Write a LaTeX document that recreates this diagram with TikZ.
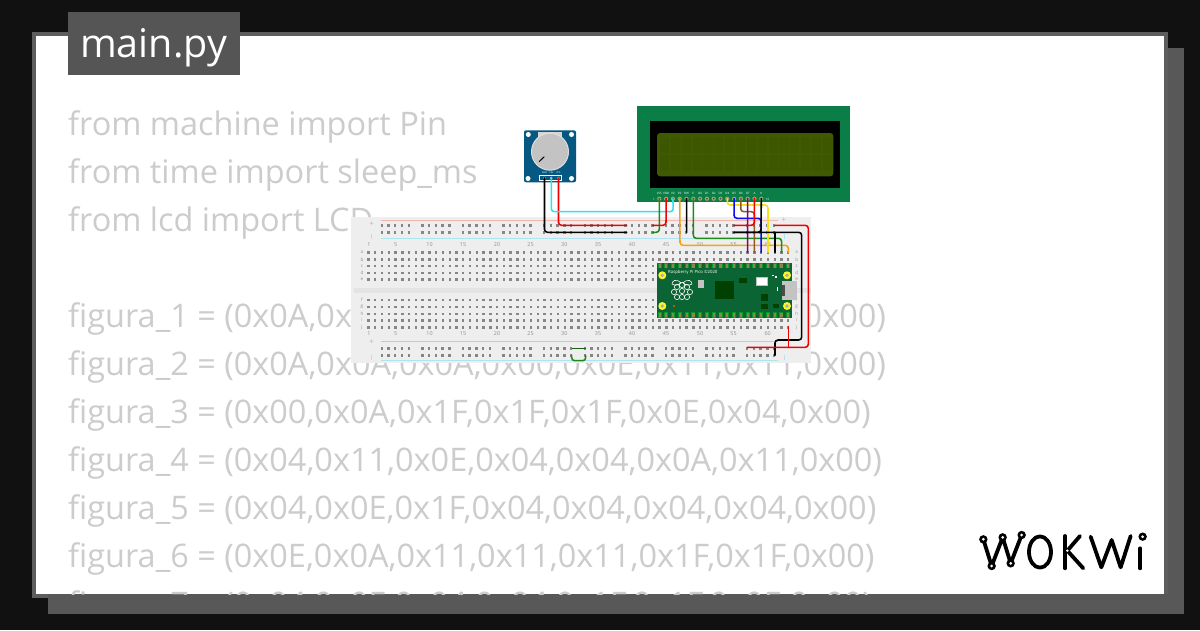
\documentclass[tikz,border=0pt]{standalone}
\usepackage{fontspec}
\setmainfont{Open Sans}
\usetikzlibrary{calc}
\definecolor{pagebg}{HTML}{111111}
\definecolor{shadowc}{HTML}{585858}
\definecolor{tabc}{HTML}{555555}
\definecolor{framec}{HTML}{5E5E5E}
\definecolor{codec}{HTML}{CCCCCC}
\definecolor{breadc}{HTML}{EEEEEE}
\definecolor{chanc}{HTML}{E3E3E3}
\definecolor{holec}{HTML}{868686}
\definecolor{railred}{HTML}{F4B7AE}
\definecolor{railblue}{HTML}{AEE3F2}
\definecolor{labelc}{HTML}{909090}
\definecolor{picoc}{HTML}{0B6434}
\definecolor{lcdc}{HTML}{0A7E46}
\definecolor{screenc}{HTML}{3F5A00}
\definecolor{potc}{HTML}{045881}
\definecolor{knobc}{HTML}{C3C3C3}
\definecolor{wgreen}{HTML}{1C8A1C}
\definecolor{wcyan}{HTML}{22E6F0}
\definecolor{worange}{HTML}{F5A21B}
\definecolor{wyellow}{HTML}{F7E11A}
\definecolor{wbrown}{HTML}{8B5A2B}
\definecolor{wpurple}{HTML}{800080}
\definecolor{wblue}{HTML}{0A0AF0}
\definecolor{wred}{HTML}{F00000}
\tikzset{
  wire/.style={line width=1.55pt,rounded corners=3pt,line cap=round},
  codeline/.style={anchor=base west,inner sep=0pt,text=codec,font=\fontsize{32.45}{32.45}\selectfont},
  boardnum/.style={inner sep=0pt,text=labelc,font=\fontsize{5.4}{5.4}\selectfont},
  rowletter/.style={inner sep=0pt,text=labelc,font=\fontsize{4.6}{4.6}\selectfont},
  lcdlabel/.style={inner sep=0pt,text=white,font=\fontsize{3}{3}\selectfont},
  logostroke/.style={line width=3.8pt,line cap=round,line join=round,black},
}
\begin{document}
\begin{tikzpicture}[x=1pt,y=-1pt]
\useasboundingbox (0,0) rectangle (1200,630);
\fill[pagebg] (0,0) rectangle (1200,630);
\fill[shadowc] (48,48) rectangle (1184,614);
\fill[framec] (32,32) rectangle (1168,598);
\fill[shadowc] (48,594) rectangle (1168,598);
\fill[white] (36,36) rectangle (1164,594);
% code
\begin{scope}
\clip (36,36) rectangle (1164,594);
\node[codeline] (c1) at (68,135.7) {from machine import Pin};
\node[codeline] (c2) at (68,183.7) {from time import sleep\_ms};
\node[codeline] (c3) at (68,231.7) {from lcd import LCD};
\node[codeline] (c5) at (68,327.7) {figura\_1 = (0x0A,0x0A,0x0A,0x00,0x11,0x0E,0x00,0x00)};
\node[codeline] (c6) at (68,375.7) {figura\_2 = (0x0A,0x0A,0x0A,0x00,0x0E,0x11,0x11,0x00)};
\node[codeline] (c7) at (68,423.7) {figura\_3 = (0x00,0x0A,0x1F,0x1F,0x1F,0x0E,0x04,0x00)};
\node[codeline] (c8) at (68,471.7) {figura\_4 = (0x04,0x11,0x0E,0x04,0x04,0x0A,0x11,0x00)};
\node[codeline] (c9) at (68,519.7) {figura\_5 = (0x04,0x0E,0x1F,0x04,0x04,0x04,0x04,0x00)};
\node[codeline] (c10) at (68,567.7) {figura\_6 = (0x0E,0x0A,0x11,0x11,0x11,0x1F,0x1F,0x00)};
\node[codeline] (c11) at (68,615.7) {figura\_7 = (0x04,0x0E,0x04,0x04,0x1F,0x1F,0x0E,0x00)};
\end{scope}
% tab
\fill[tabc] (68,12) rectangle (240,75);
\node[anchor=base west,inner sep=0pt,text=white,font=\fontsize{39.5}{39.5}\selectfont] (tab) at (80,57.5) {main.py};
% breadboard
\fill[breadc] (351,217) rectangle (811,363);
\fill[chanc] (354,287.5) rectangle (811,292.5);
\draw[railred,line width=.8pt] (381,220) -- (778,220) (381,341) -- (778,341);
\draw[railblue,line width=.8pt] (381,238) -- (778,238) (381,360) -- (778,360);
\foreach \g in {0,...,9}{\foreach \i in {0,...,4}{
  \pgfmathsetmacro{\hx}{381.7+40.6*\g+6.77*\i}
  \foreach \hy in {225.3,232.3,348.3,355.3}{\fill[holec] (\hx-1.2,\hy-1.2) rectangle (\hx+1.2,\hy+1.2);}
}}
\foreach \c in {1,...,63}{
  \pgfmathsetmacro{\hx}{368.5+6.77*(\c-1)}
  \foreach \hy in {252.3,259.3,266,272.7,279.3,300,307,313.7,320.3,327.3}{\fill[holec] (\hx-1.2,\hy-1.2) rectangle (\hx+1.2,\hy+1.2);}
}
\foreach \n/\nx in {1/369,5/395.7,10/429.5,15/463,20/497,25/530.5,30/564.3,35/598,40/632,45/666,50/700,55/733.5,60/767.7}{
  \node[boardnum] (nt\n) at (\nx,245) {\n};
  \node[boardnum] (nb\n) at (\nx,334) {\n};
}
\foreach \l/\ly in {a/252.3,b/259.3,c/266,d/272.7,e/279.3,f/300,g/307,h/313.7,i/320.3,j/327.3}{
  \node[rowletter] (ll\l) at (362,\ly) {\l};
  \node[rowletter] (lr\l) at (796.7,\ly) {\l};
}
\foreach \px/\py/\nm in {371.7/224/p1,784/220/p2,371.7/342.5/p3}{\node[inner sep=0pt,text=railred!85!red,font=\fontsize{8}{8}\selectfont] (\nm) at (\px,\py) {+};}
\foreach \px/\py in {371.5/236,784/236,371.5/357,784/357}{\draw[railblue,line width=.8pt] (\px,\py-2.5) -- (\px,\py+2.5);}
% pico
\fill[picoc] (657.3,262.7) rectangle (792,317.7);
\foreach \c in {44,...,63}{
  \pgfmathsetmacro{\hx}{368.5+6.77*(\c-1)}
  \foreach \hy in {265.5,315}{
    \fill[green!35!picoc] (\hx-2,\hy-2.6) rectangle (\hx+2,\hy+2.6);
    \fill[holec!70!yellow!80!black] (\hx-1.1,\hy-2) rectangle (\hx+1.1,\hy+2);
  }
}
\foreach \mx/\my in {662.3/275.3,662.3/306,787/275.3,787/306}{
  \fill[yellow!85!white] (\mx,\my) circle (4);
  \fill[holec!70!white] (\mx,\my) circle (1.8);
}
\node[anchor=west,inner sep=0pt,text=white,font=\fontsize{4.3}{4.3}\selectfont] (picotxt) at (668,272.7) {Raspberry Pi Pico ©2020};
% raspberry logo
\begin{scope}[white,line width=.6pt]
\foreach \lx/\ly in {682/285,677/287,687/287,674/292,682/291,690/292,677/297,687/297,682/297}{\draw (\lx,\ly) circle (2.6);}
\draw (681,283) .. controls (676,278) and (672,281) .. (672,284) .. controls (675,286) and (678,285) .. (681,283);
\draw (683,283) .. controls (688,278) and (692,281) .. (692,284) .. controls (689,286) and (686,285) .. (683,283);
\end{scope}
\fill[knobc] (697.7,280) rectangle (703.7,288);
\fill[black!75!green] (715.3,281) rectangle (734,299.3);
\fill[black!75!green] (739,277.7) rectangle (747,283);
\fill[black!75!green] (761,294.3) rectangle (768,300.7);
\fill[black!75!green] (761,303.7) rectangle (768,309);
\fill[black!75!green] (772.7,304) rectangle (779,308);
\fill[white,draw=gray!50,line width=.5pt] (756.7,277.7) rectangle (767.7,285);
\fill[knobc] (781.7,281) rectangle (797.3,300);
\fill[black!70] (782,285) rectangle (784.5,296);
\fill[white] (772,274.5) rectangle (773.5,276);
\fill[white] (775,276) rectangle (776.5,277.5);
\fill[white] (777,287) rectangle (778,291);
\fill[orange!70!black] (673,305) rectangle (674.5,306.5);
% lcd
\fill[lcdc] (637,106) rectangle (850.3,201.7);
\fill[black] (650,121) rectangle (840,188.3);
\fill[screenc,rounded corners=3pt] (657,133) rectangle (833.3,176.3);
\begin{scope}[black,opacity=.03]
\foreach \k in {0,...,15}{\pgfmathsetmacro{\cx}{660+10.85*\k}
\fill (\cx,137) rectangle (\cx+9.2,153);\fill (\cx,155) rectangle (\cx+9.2,171);}
\end{scope}
\foreach \k/\t in {1/VSS,2/VDD,3/V0,4/RS,5/RW,6/E,7/D0,8/D1,9/D2,10/D3,11/D4,12/D5,13/D6,14/D7,15/A,16/K}{
  \pgfmathsetmacro{\lx}{659.3+6.8*(\k-1)}
  \coordinate (lcd\k) at (\lx,198.7);
  \fill[holec!70!yellow] (lcd\k) circle (2.1);
  \fill[black!70] (lcd\k) circle (1);
  \node[lcdlabel] (lt\k) at (\lx,193.3) {\t};
}
\node[lcdlabel] (lcdone) at (654,199) {1};
\node[lcdlabel] (lcdsix) at (767.5,199) {16};
% potentiometer
\fill[potc,rounded corners=2pt] (524,130.3) rectangle (576,182.3);
\foreach \mx/\my in {528.3/134.5,571.5/134.5,528/178.5,571.5/178.5}{\fill[white] (\mx,\my) circle (2.5);}
\fill[knobc!70!white] (538,132) rectangle (562,138);
\fill[knobc,draw=knobc!55!white,line width=1pt] (550,151.7) circle (18.5);
\draw[black,line width=1pt] (539,161.7) -- (544.3,156.7);
\draw[white,line width=.6pt] (539.3,175.3) rectangle (561.7,180.6);
\foreach \k/\t/\px in {gnd/GND/544.5,sig/SIG/551.3,vcc/VCC/558.5}{
  \coordinate (pot\k) at (\px,178);
  \fill[knobc] (pot\k) circle (1.4);
  \node[inner sep=0pt,text=white,font=\fontsize{2.4}{2.4}\selectfont] (pl\k) at (\px,173) {\t};
}
% free wire ends on the breadboard
\coordinate (h1) at (626.7,232.3);
\coordinate (h2) at (626.7,225.3);
\coordinate (h3) at (652.7,232.3);
\coordinate (h4) at (652.7,225.3);
\coordinate (h5) at (788.3,252.3);
\coordinate (h6) at (686.7,232.3);
\coordinate (h7) at (781.6,252.3);
\coordinate (h8) at (768,252.3);
\coordinate (h9) at (761.2,252.3);
\coordinate (h10) at (754.4,252.3);
\coordinate (h11) at (747.7,252.3);
\coordinate (h12) at (734,225.3);
\coordinate (h13) at (734,232.3);
\coordinate (h14) at (775,232.3);
\coordinate (h15) at (775,252.3);
\coordinate (h16) at (775,225.3);
\coordinate (h17) at (747.3,347.3);
\coordinate (h18) at (788.3,326.7);
\coordinate (h19) at (775,355.3);
\coordinate (h20) at (571.7,348.3);
\coordinate (h21) at (585.7,348.3);
\coordinate (h22) at (571.7,355.3);
\coordinate (h23) at (585.7,355.3);
% wires
\draw[wire,black] (potgnd) -- (544.5,232.3) -- (h1);
\draw[wire,wred] (potvcc) -- (558.5,225.3) -- (h2);
\draw[wire,wcyan] (potsig) -- (551.3,211.7) -- (673.3,211.7) -- (lcd3);
\draw[wire,wgreen] (lcd1) -- (659.3,232.3) -- (h3);
\draw[wire,wred] (lcd2) -- (666,225.3) -- (h4);
\draw[wire,worange] (lcd4) -- (680,245.3) -- (788.3,245.3) -- (h5);
\draw[wire,black] (lcd5) -- (h6);
\draw[wire,wgreen] (lcd6) -- (693.3,238.3) -- (781.6,238.3) -- (h7);
\draw[wire,wyellow] (lcd11) -- (727.3,205) -- (768,205) -- (h8);
\draw[wire,wblue] (lcd12) -- (734,218.3) -- (761.2,218.3) -- (h9);
\draw[wire,wbrown] (lcd13) -- (740.7,211.7) -- (754.4,211.7) -- (h10);
\draw[wire,wpurple] (lcd14) -- (h11);
\draw[wire,wred] (lcd15) -- (754.3,225.3) -- (h12);
\draw[wire,black] (lcd16) -- (761,232.3) -- (h13);
\draw[wire,black] (h13) -- (801.7,232.3) -- (801.7,340) -- (775,340) -- (h19);
\draw[wire,black] (h14) -- (h15);
\draw[wire,wred] (h16) -- (808.3,225.3) -- (808.3,347.3) -- (h17);
\draw[wire,wred] (h18) -- (788.3,347.3);
\draw[line width=1.2pt,wgreen!70!black] (h20) -- (h21);
\draw[wire,wgreen] (h22) -- (571.7,360.7) -- (585.7,360.7) -- (h23);
% logo
\begin{scope}[shift={(960,520)},x=.3333pt,y=-.3333pt]
\draw[logostroke] (70,58) -- (95,138) -- (128,52) -- (152,130) -- (185,45);
\foreach \lx/\ly in {70/58,128/52,185/45,95/138,152/130}{\fill[black] (\lx,\ly) circle (4.2pt);\fill[white] (\lx,\ly) circle (1.5pt);}
\draw[logostroke] (240,96) ellipse (33 and 47);
\draw[logostroke] (315,48) -- (315,145);
\draw[logostroke] (360,48) -- (322,92) -- (370,145);
\fill[white] (322,92) circle (1.4pt);
\draw[logostroke] (392,50) -- (424,142) -- (455,60) -- (482,142) -- (512,48);
\draw[logostroke] (541,85) -- (541,145);
\fill[black] (548,50) circle (4.2pt);\fill[white] (548,50) circle (1.5pt);
\end{scope}
\end{tikzpicture}
\end{document}
